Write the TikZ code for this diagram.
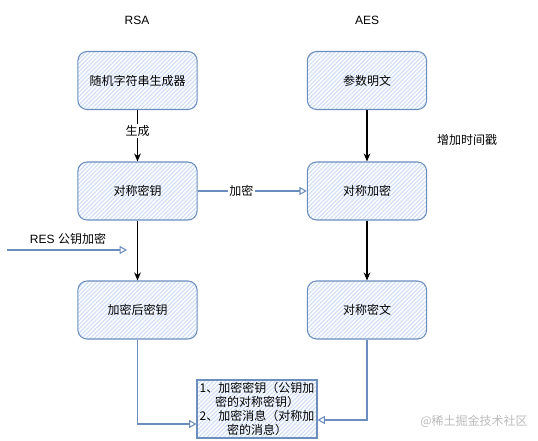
\documentclass[tikz,border=0pt]{standalone}
\usepackage{fontspec}
\setmainfont{Liberation Sans}
\newfontfamily\cjk{Noto Sans CJK SC}
\usetikzlibrary{arrows.meta,patterns.meta,calc}
\definecolor{bblue}{HTML}{6C8EBF}
\definecolor{hatch}{HTML}{CFDFF8}
\definecolor{wmark}{HTML}{BBBBBB}
\begin{document}
\begin{tikzpicture}[x=0.75pt,y=-0.75pt,
  hatchfill/.style={pattern={Lines[angle=45,distance=2.2pt,line width=0.9pt]}, pattern color=hatch},
  box/.style={draw=bblue, line width=0.8pt, rounded corners=7pt, minimum width=89.5pt, minimum height=43.5pt, hatchfill, font=\cjk\fontsize{9}{10}\selectfont, inner sep=0pt},
  notebox/.style={draw=bblue, line width=0.8pt, minimum width=90pt, minimum height=43.5pt, hatchfill, font=\cjk\fontsize{9}{10.5}\selectfont, align=center, inner sep=0pt},
  lab/.style={font=\cjk\fontsize{9}{10}\selectfont, inner sep=1pt},
  title/.style={font=\fontsize{9}{10}\selectfont},
  barrow/.style={-{Stealth[length=6pt,width=5pt]}, line width=0.8pt, black},
  blarrow/.style={-{Triangle[open,length=5.5pt,width=6pt]}, draw=bblue, line width=0.8pt}
]
\useasboundingbox (0,0) rectangle (538,441);

\node[title] (rsa) at (137,20) {RSA};
\node[title] (aes) at (367,20) {AES};

\node[box] (r1) at (137.5,80.5) {随机字符串生成器};
\node[box] (r2) at (137.5,191) {对称密钥};
\node[box] (r3) at (137.5,310) {加密后密钥};

\node[box] (a1) at (367,80.5) {参数明文};
\node[box] (a2) at (367,191) {对称加密};
\node[box] (a3) at (367,310) {对称密文};

\node[lab] (ts) at (467,140) {增加时间戳};

\node[notebox] (bot) at (257,409) {1、加密密钥（公钥加\\密的对称密钥）\\2、加密消息（对称加\\密的消息）};

\draw[barrow] (r1) -- node[lab, fill=white, pos=0.4] (gen) {生成} (r2);
\draw[barrow] (r2) -- (r3);
\draw[barrow] (a1) -- (a2);
\draw[barrow] (a2) -- (a3);

\draw[blarrow] (r2) -- node[lab, fill=white, pos=0.4] (enc) {加密} (a2);

\coordinate (resS) at (7,250);
\coordinate (resE) at (127,250);
\draw[blarrow] (resS) -- (resE);
\node[lab, font=\fontsize{9}{10}\selectfont] (reslab) at (68,239) {RES {\cjk 公钥加密}};

\draw[blarrow] (r3.south) |- ($(bot.west)+(0,15)$);
\draw[blarrow] (a3.south) |- ($(bot.east)+(0,11)$);

\node[font=\cjk\fontsize{9}{10}\selectfont, text=wmark] (wm) at (474,421) {@稀土掘金技术社区};
\end{tikzpicture}
\end{document}
